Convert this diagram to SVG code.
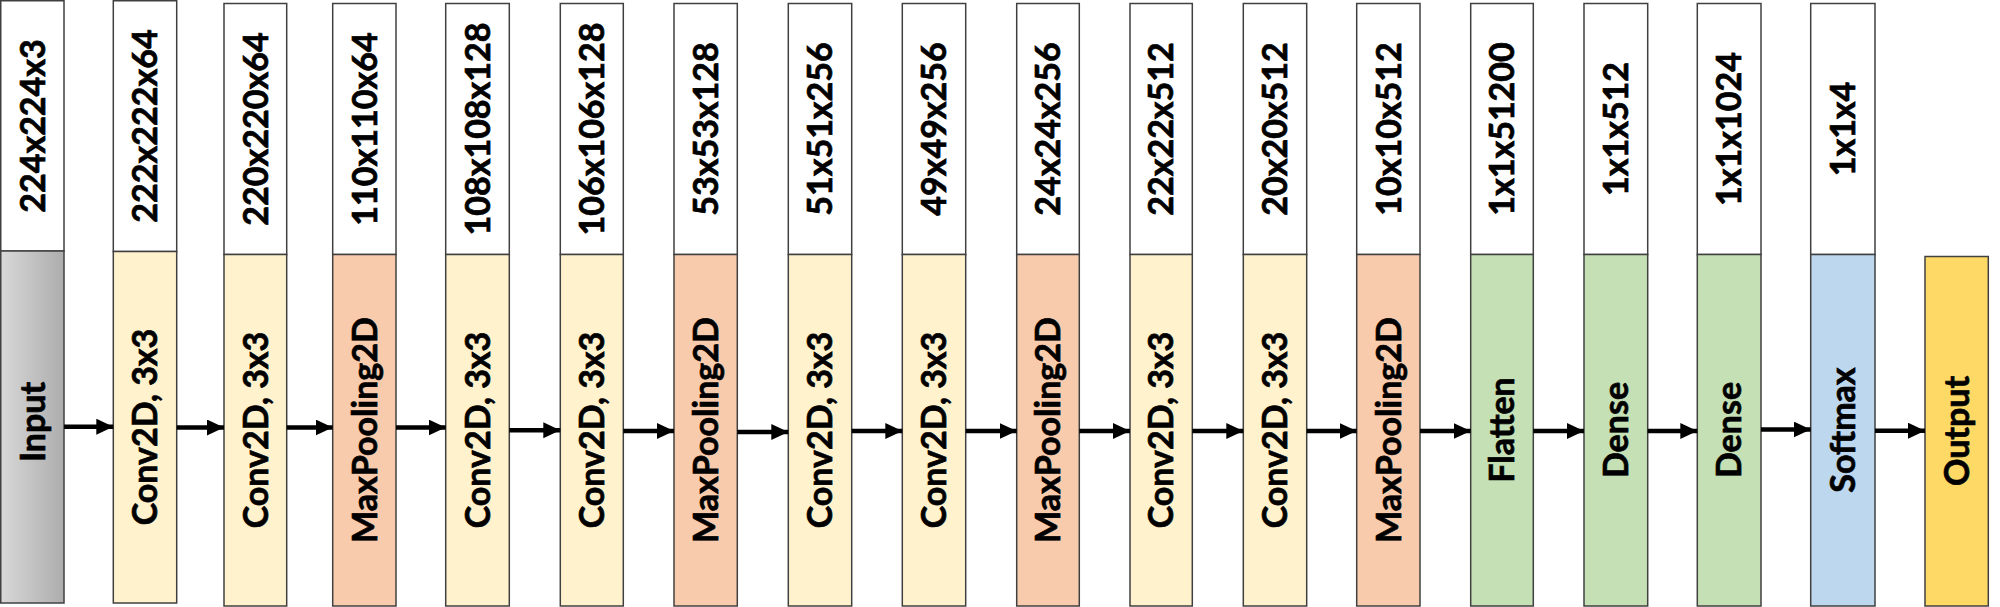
<svg xmlns="http://www.w3.org/2000/svg" width="2000" height="607" viewBox="0 0 2000 607">
<style>
  .box { stroke: #404040; stroke-width: 1.5; }
  .top { fill: #ffffff; }
  .conv { fill: #FFF2CC; }
  .pool { fill: #F8CBAD; }
  .green { fill: #C5E0B4; }
  .soft { fill: #BDD7EE; }
  .out { fill: #FFD966; }
  .inp { fill: url(#gray); }
  text { font-family: Lato, "Open Sans", "Liberation Sans", sans-serif; font-weight: bold; font-size: 34px; fill: #000; stroke: #000; stroke-width: 0.7; text-anchor: middle; }
  .conn line { stroke: #000; stroke-width: 4.5; }
</style>
<defs>
  <linearGradient id="gray" x1="0" y1="0" x2="1" y2="0">
    <stop offset="0" stop-color="#d8d8d8"/>
    <stop offset="1" stop-color="#adadad"/>
  </linearGradient>
  <marker id="ah" markerUnits="userSpaceOnUse" markerWidth="18" markerHeight="17" refX="17" refY="8" orient="auto">
    <path d="M0,0 L17,8 L0,16 Z" fill="#000"/>
  </marker>
</defs>
<rect width="2000" height="607" fill="#ffffff"/>

<g id="input">
  <rect class="box top" x="0.75" y="0.75" width="63.25" height="250.25"/>
  <rect class="box inp" x="0.75" y="251" width="63.25" height="352"/>
  <text transform="translate(32.4,126) rotate(-90)" dy="0.36em">224x224x3</text>
  <text transform="translate(32.4,422) rotate(-90)" dy="0.36em">Input</text>
</g>
<g id="conv1">
  <rect class="box top" x="113.3" y="0.75" width="63.4" height="250.75"/>
  <rect class="box conv" x="113.3" y="251.5" width="63.4" height="351.5"/>
  <text transform="translate(145,126) rotate(-90)" dy="0.36em">222x222x64</text>
  <text transform="translate(145,427) rotate(-90)" dy="0.36em">Conv2D, 3x3</text>
</g>
<g id="conv2">
  <rect class="box top" x="224" y="3.5" width="62.7" height="251"/>
  <rect class="box conv" x="224" y="254.5" width="62.7" height="351.5"/>
  <text transform="translate(255.4,129) rotate(-90)" dy="0.36em">220x220x64</text>
  <text transform="translate(255.4,430) rotate(-90)" dy="0.36em">Conv2D, 3x3</text>
</g>
<g id="pool1">
  <rect class="box top" x="332.7" y="3.5" width="63.3" height="251"/>
  <rect class="box pool" x="332.7" y="254.5" width="63.3" height="351.5"/>
  <text transform="translate(364.4,129) rotate(-90)" dy="0.36em">110x110x64</text>
  <text transform="translate(364.4,430) rotate(-90)" dy="0.36em">MaxPooling2D</text>
</g>
<g id="conv3">
  <rect class="box top" x="445.7" y="3.5" width="63.6" height="251"/>
  <rect class="box conv" x="445.7" y="254.5" width="63.6" height="351.5"/>
  <text transform="translate(477.5,129) rotate(-90)" dy="0.36em">108x108x128</text>
  <text transform="translate(477.5,430) rotate(-90)" dy="0.36em">Conv2D, 3x3</text>
</g>
<g id="conv4">
  <rect class="box top" x="560.3" y="3.5" width="63" height="251"/>
  <rect class="box conv" x="560.3" y="254.5" width="63" height="351.5"/>
  <text transform="translate(591.8,129) rotate(-90)" dy="0.36em">106x106x128</text>
  <text transform="translate(591.8,430) rotate(-90)" dy="0.36em">Conv2D, 3x3</text>
</g>
<g id="pool2">
  <rect class="box top" x="674" y="3.5" width="63.3" height="251"/>
  <rect class="box pool" x="674" y="254.5" width="63.3" height="351.5"/>
  <text transform="translate(705.7,129) rotate(-90)" dy="0.36em">53x53x128</text>
  <text transform="translate(705.7,430) rotate(-90)" dy="0.36em">MaxPooling2D</text>
</g>
<g id="conv5">
  <rect class="box top" x="788.3" y="3.5" width="63.4" height="251"/>
  <rect class="box conv" x="788.3" y="254.5" width="63.4" height="351.5"/>
  <text transform="translate(820,129) rotate(-90)" dy="0.36em">51x51x256</text>
  <text transform="translate(820,430) rotate(-90)" dy="0.36em">Conv2D, 3x3</text>
</g>
<g id="conv6">
  <rect class="box top" x="902.3" y="3.5" width="63.4" height="251"/>
  <rect class="box conv" x="902.3" y="254.5" width="63.4" height="351.5"/>
  <text transform="translate(934,129) rotate(-90)" dy="0.36em">49x49x256</text>
  <text transform="translate(934,430) rotate(-90)" dy="0.36em">Conv2D, 3x3</text>
</g>
<g id="pool3">
  <rect class="box top" x="1016.7" y="3.5" width="62.6" height="251"/>
  <rect class="box pool" x="1016.7" y="254.5" width="62.6" height="351.5"/>
  <text transform="translate(1048,129) rotate(-90)" dy="0.36em">24x24x256</text>
  <text transform="translate(1048,430) rotate(-90)" dy="0.36em">MaxPooling2D</text>
</g>
<g id="conv7">
  <rect class="box top" x="1130" y="3.5" width="62.3" height="251"/>
  <rect class="box conv" x="1130" y="254.5" width="62.3" height="351.5"/>
  <text transform="translate(1161.2,129) rotate(-90)" dy="0.36em">22x22x512</text>
  <text transform="translate(1161.2,430) rotate(-90)" dy="0.36em">Conv2D, 3x3</text>
</g>
<g id="conv8">
  <rect class="box top" x="1243.3" y="3.5" width="63.4" height="251"/>
  <rect class="box conv" x="1243.3" y="254.5" width="63.4" height="351.5"/>
  <text transform="translate(1275,129) rotate(-90)" dy="0.36em">20x20x512</text>
  <text transform="translate(1275,430) rotate(-90)" dy="0.36em">Conv2D, 3x3</text>
</g>
<g id="pool4">
  <rect class="box top" x="1356.7" y="3.5" width="63.3" height="251"/>
  <rect class="box pool" x="1356.7" y="254.5" width="63.3" height="351.5"/>
  <text transform="translate(1388.4,129) rotate(-90)" dy="0.36em">10x10x512</text>
  <text transform="translate(1388.4,430) rotate(-90)" dy="0.36em">MaxPooling2D</text>
</g>
<g id="flatten">
  <rect class="box top" x="1470.7" y="3.5" width="62.6" height="251"/>
  <rect class="box green" x="1470.7" y="254.5" width="62.6" height="351.5"/>
  <text transform="translate(1502,129) rotate(-90)" dy="0.36em">1x1x51200</text>
  <text transform="translate(1502,430) rotate(-90)" dy="0.36em">Flatten</text>
</g>
<g id="dense1">
  <rect class="box top" x="1584" y="3.5" width="63.7" height="251"/>
  <rect class="box green" x="1584" y="254.5" width="63.7" height="351.5"/>
  <text transform="translate(1615.8,129) rotate(-90)" dy="0.36em">1x1x512</text>
  <text transform="translate(1615.8,430) rotate(-90)" dy="0.36em">Dense</text>
</g>
<g id="dense2">
  <rect class="box top" x="1697.3" y="3.5" width="63.7" height="251"/>
  <rect class="box green" x="1697.3" y="254.5" width="63.7" height="351.5"/>
  <text transform="translate(1729.2,129) rotate(-90)" dy="0.36em">1x1x1024</text>
  <text transform="translate(1729.2,430) rotate(-90)" dy="0.36em">Dense</text>
</g>
<g id="softmax">
  <rect class="box top" x="1810.7" y="3.5" width="64.3" height="251"/>
  <rect class="box soft" x="1810.7" y="254.5" width="64.3" height="351.5"/>
  <text transform="translate(1842.8,129) rotate(-90)" dy="0.36em">1x1x4</text>
  <text transform="translate(1842.8,430) rotate(-90)" dy="0.36em">Softmax</text>
</g>
<g id="output">
  <rect class="box out" x="1925" y="256.5" width="63.3" height="349.5"/>
  <text transform="translate(1956.7,431) rotate(-90)" dy="0.36em">Output</text>
</g>

<g id="connectors" class="conn">
  <line x1="64" y1="426.7" x2="113.3" y2="426.7" marker-end="url(#ah)"/>
  <line x1="176.7" y1="427.5" x2="224" y2="427.5" marker-end="url(#ah)"/>
  <line x1="286.7" y1="427.5" x2="332.7" y2="427.5" marker-end="url(#ah)"/>
  <line x1="396" y1="427.5" x2="445.7" y2="427.5" marker-end="url(#ah)"/>
  <line x1="509.3" y1="430.2" x2="560.3" y2="430.2" marker-end="url(#ah)"/>
  <line x1="623.3" y1="431" x2="674" y2="431" marker-end="url(#ah)"/>
  <line x1="737.3" y1="432" x2="788.3" y2="432" marker-end="url(#ah)"/>
  <line x1="851.7" y1="431" x2="902.3" y2="431" marker-end="url(#ah)"/>
  <line x1="965.7" y1="431" x2="1016.7" y2="431" marker-end="url(#ah)"/>
  <line x1="1079.3" y1="431" x2="1130" y2="431" marker-end="url(#ah)"/>
  <line x1="1192.3" y1="431" x2="1243.3" y2="431" marker-end="url(#ah)"/>
  <line x1="1306.7" y1="431" x2="1356.7" y2="431" marker-end="url(#ah)"/>
  <line x1="1420" y1="431" x2="1470.7" y2="431" marker-end="url(#ah)"/>
  <line x1="1533.3" y1="431" x2="1584" y2="431" marker-end="url(#ah)"/>
  <line x1="1647.7" y1="431" x2="1697.3" y2="431" marker-end="url(#ah)"/>
  <line x1="1761" y1="429.5" x2="1810.7" y2="429.5" marker-end="url(#ah)"/>
  <line x1="1875" y1="430.7" x2="1925" y2="430.7" marker-end="url(#ah)"/>
</g>
</svg>
